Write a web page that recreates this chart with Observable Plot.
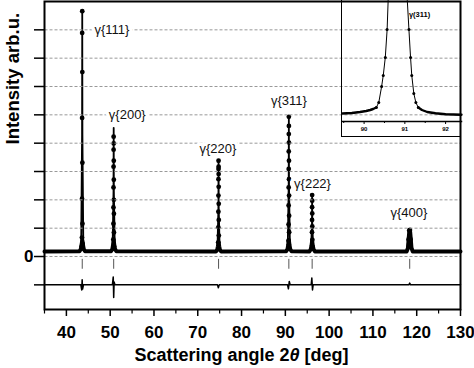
<!DOCTYPE html>
<html><head><meta charset="utf-8">
<script src="https://cdn.jsdelivr.net/npm/d3@7"></script>
<script src="https://cdn.jsdelivr.net/npm/@observablehq/plot@0.6"></script>
<style>
body{margin:0;background:#fff;}
#wrap{position:relative;width:474px;height:368px;overflow:hidden;font-family:"Liberation Sans",Arial,sans-serif;}
#main svg{display:block;}
#inset{position:absolute;left:341px;top:0;width:119px;height:136px;border-left:1.5px solid #000;border-bottom:1.5px solid #000;}
#inset svg{display:block;}
</style></head><body>
<div id="wrap"><div id="main"></div><div id="inset"></div></div>
<script>
// ---- main pattern data ----
const peakNames = ["γ{111}", "γ{200}", "γ{220}", "γ{311}", "γ{222}", "γ{400}"];
const braggPos = [43.62, 50.80, 74.75, 90.80, 96.12, 118.40];
const labelX = [50.4, 53.9, 74.6, 90.8, 96.2, 118.2];
const labelY = [8.0, 5.0, 3.79, 5.5, 2.57, 1.54];

// background band (with peak bases)
const bgX = [35, 43.0, 43.3, 43.45, 43.62, 43.8, 43.95, 44.25,
  50.2, 50.5, 50.65, 50.80, 50.95, 51.1, 51.4,
  74.15, 74.45, 74.6, 74.75, 74.9, 75.05, 75.35,
  90.2, 90.5, 90.65, 90.80, 90.95, 91.1, 91.4,
  95.5, 95.8, 95.97, 96.12, 96.27, 96.45, 96.75,
  117.7, 118.0, 118.15, 118.3, 118.5, 118.65, 118.8, 119.1, 130];
const bgY = [0.18, 0.19, 0.26, 0.4, 0.56, 0.4, 0.26, 0.19,
  0.19, 0.26, 0.4, 0.56, 0.4, 0.26, 0.19,
  0.18, 0.24, 0.36, 0.5, 0.36, 0.24, 0.18,
  0.19, 0.26, 0.4, 0.58, 0.4, 0.26, 0.19,
  0.18, 0.25, 0.38, 0.55, 0.38, 0.25, 0.18,
  0.18, 0.3, 0.6, 0.88, 0.88, 0.6, 0.3, 0.18, 0.18];

// calculated profile (thin line)
const calcX = [35, 43.0, 43.37, 43.58, 43.62, 43.66, 43.87, 44.25,
  50.2, 50.55, 50.76, 50.80, 50.84, 51.05, 51.4,
  74.15, 74.50, 74.71, 74.75, 74.79, 75.00, 75.35,
  90.2, 90.55, 90.76, 90.80, 90.84, 91.05, 91.4,
  95.5, 95.87, 96.08, 96.12, 96.16, 96.37, 96.75,
  117.7, 118.2, 118.4, 118.6, 119.1, 130];
const calcY = [0.18, 0.18, 0.35, 4.3, 8.66, 4.3, 0.35, 0.18,
  0.18, 0.35, 2.3, 4.54, 2.3, 0.35, 0.18,
  0.18, 0.3, 1.7, 3.38, 1.7, 0.3, 0.18,
  0.18, 0.35, 2.5, 4.93, 2.5, 0.35, 0.18,
  0.18, 0.3, 1.1, 2.17, 1.1, 0.3, 0.18,
  0.18, 0.7, 0.95, 0.7, 0.18, 0.18];

// observed points (dots)
const obsX = [43.50, 43.55, 43.57, 43.59, 43.60, 43.62, 43.64, 43.65, 43.67, 43.70, 43.75,
  50.79, 50.81, 50.78, 50.82, 50.77, 50.83, 50.76, 50.84, 50.75, 50.85, 50.74, 50.86, 50.72, 50.89,
  74.75, 74.76, 74.74, 74.77, 74.73, 74.78, 74.72, 74.79, 74.71, 74.80, 74.70, 74.81, 74.68,
  90.80, 90.81, 90.79, 90.82, 90.78, 90.83, 90.77, 90.84, 90.76, 90.85, 90.75, 90.86, 90.74, 90.87, 90.72,
  96.12, 96.13, 96.11, 96.14, 96.10, 96.15, 96.09, 96.17,
  118.15, 118.3, 118.45, 118.6];
const obsY = [0.35, 0.67, 2.04, 4.89, 7.89, 8.66, 6.51, 3.31, 1.16, 0.45, 0.3,
  4.23, 3.99, 3.77, 3.38, 3.17, 2.71, 2.44, 2.00, 1.73, 1.51, 1.16, 0.85, 0.60, 0.35,
  3.38, 3.17, 3.09, 2.91, 2.73, 2.46, 2.15, 1.86, 1.58, 1.29, 1.03, 0.74, 0.50,
  4.93, 4.61, 4.32, 4.02, 3.71, 3.38, 3.09, 2.73, 2.44, 2.15, 1.80, 1.44, 1.13, 0.86, 0.56,
  2.17, 1.97, 1.74, 1.52, 1.29, 1.06, 0.86, 0.59,
  0.6, 0.92, 0.94, 0.6];

// difference curve
const diffX = [35, 43.3, 43.5, 43.6, 43.7, 43.9, 50.5, 50.7, 50.8, 50.9, 51.1,
  74.5, 74.7, 74.9, 90.5, 90.7, 90.9, 91.1, 95.9, 96.05, 96.2, 96.35, 118.2, 118.4, 118.6, 130];
const diffY = [-1, -1.0, -1.18, -0.82, -1.15, -1.0, -1.0, -0.72, -1.45, -0.9, -1.0,
  -1.0, -1.1, -1.0, -1.0, -1.14, -0.88, -1.0, -1.0, -0.76, -1.18, -1.0, -1.0, -0.94, -1.0, -1];

const xMajor = [40, 50, 60, 70, 80, 90, 100, 110, 120, 130];
const xMinor = [35, 45, 55, 65, 75, 85, 95, 105, 115, 125];
const yTicks = [-1, 0, 1, 2, 3, 4, 5, 6, 7, 8];
const gridTicks = [0, 1, 2, 3, 4, 5, 6, 7, 8];
const xTitle = "Scattering angle 2θ [deg]";
const yTitle = "Intensity arb.u.";

// ---- inset data ----
const insetLineX = [89.47, 89.7, 89.9, 90.05, 90.15, 90.22, 90.30, 90.36, 90.43, 90.47, 90.52, 90.565, 90.59, 90.62,
  91.03, 91.06, 91.10, 91.14, 91.17, 91.22, 91.27, 91.33, 91.42, 91.55, 91.75, 92.0, 92.39];
const insetLineY = [0.8, 0.85, 0.95, 1.05, 1.15, 1.25, 1.4, 1.9, 3.5, 4.6, 6.4, 9.2, 12.1, 15,
  15, 12.1, 9.2, 6.4, 4.6, 2.8, 1.9, 1.4, 1.15, 0.95, 0.82, 0.72, 0.67];
const insetDotX = [90.30, 90.36, 90.43, 90.47, 90.52, 90.565, 91.10, 91.14, 91.17, 91.22, 91.27, 91.33];
const insetDotY = [1.4, 1.9, 3.5, 4.6, 6.4, 9.2, 9.2, 6.4, 4.6, 2.8, 1.9, 1.4];
const insetBgX = [89.47, 89.7, 89.9, 90.05, 90.15, 90.22, 90.30, 91.33, 91.42, 91.55, 91.75, 92.0, 92.39];
const insetBgY = [0.8, 0.85, 0.95, 1.05, 1.15, 1.25, 1.4, 1.4, 1.15, 0.95, 0.82, 0.72, 0.67];
const insetBgSide = ["L", "L", "L", "L", "L", "L", "L", "R", "R", "R", "R", "R", "R"];
const insetTicks = [90, 91, 92];
const insetMinor = [89.5, 90.5, 91.5];
const insetLabel = "γ(311)";

const font = "Liberation Sans, Arial, sans-serif";
const pts = (xs, ys) => xs.map((x, i) => ({x, y: ys[i]}));
const labels = peakNames.map((t, i) => ({t, x: labelX[i], y: labelY[i]}));

const main = Plot.plot({
  width: 474, height: 368,
  marginLeft: 44, marginRight: 14, marginTop: 1, marginBottom: 59,
  style: {fontFamily: font, background: "transparent", overflow: "visible"},
  x: {domain: [35, 130]},
  y: {domain: [-1.87, 9]},
  marks: [
    Plot.line(pts(bgX, bgY), {x: "x", y: "y", stroke: "#000", strokeWidth: 4}),
    Plot.line(pts(calcX, calcY), {x: "x", y: "y", stroke: "#000", strokeWidth: 1.8}),
    Plot.dot(pts(obsX, obsY), {x: "x", y: "y", r: 2.4, fill: "#000", stroke: "none"}),
    Plot.ruleX(braggPos, {x: d => d, y1: -0.1, y2: -0.45, stroke: "#555", strokeWidth: 1}),
    Plot.line(pts(diffX, diffY), {x: "x", y: "y", stroke: "#000", strokeWidth: 1.5}),
    Plot.link(gridTicks, {x1: () => 35, x2: () => 130, y1: d => d, y2: d => d, stroke: "#999", strokeDasharray: "3,2", strokeWidth: 1}),
    Plot.text(labels, {x: "x", y: "y", text: "t", fontSize: 13, fill: "#111", stroke: "white", strokeWidth: 7}),
    Plot.axisX({ticks: xMajor, tickSize: 7, tickPadding: 9, fontSize: 17, fontWeight: "bold", label: null, strokeWidth: 1.5}),
    Plot.axisX({ticks: xMinor, tickSize: 4.5, tickFormat: () => "", label: null, strokeWidth: 1.2}),
    Plot.axisY({ticks: yTicks, tickSize: 10, tickPadding: 1, tickFormat: d => d === 0 ? "0" : "", fontSize: 17, fontWeight: "bold", label: null, strokeWidth: 1.5}),
    Plot.frame({stroke: "#000", strokeWidth: 2}),
    Plot.text([xTitle], {frameAnchor: "bottom", dx: -11, dy: 46, lineAnchor: "middle", fontSize: 18, fontWeight: "bold", fill: "#000"}),
    Plot.text([yTitle], {frameAnchor: "left", dx: -31, dy: -11, rotate: -90, lineAnchor: "middle", fontSize: 18.5, fontWeight: "bold", fill: "#000"})
  ]
});
document.getElementById("main").appendChild(main);
// italic theta
main.querySelectorAll("text").forEach(t => {
  if (t.textContent === xTitle) {
    const ns = "http://www.w3.org/2000/svg";
    t.textContent = "";
    const a = document.createElementNS(ns, "tspan"); a.textContent = "Scattering angle 2";
    const b = document.createElementNS(ns, "tspan"); b.textContent = "θ"; b.setAttribute("font-style", "italic");
    const c = document.createElementNS(ns, "tspan"); c.textContent = " [deg]";
    t.append(a, b, c);
  }
});

const inset = Plot.plot({
  width: 119, height: 136,
  marginLeft: 0, marginRight: 0, marginTop: 0, marginBottom: 15,
  style: {fontFamily: font, background: "transparent", overflow: "visible"},
  x: {domain: [89.47, 92.39]},
  y: {domain: [0, 12.1], axis: null},
  marks: [
    Plot.line(insetBgX.map((x, i) => ({x, y: insetBgY[i], s: insetBgSide[i]})), {x: "x", y: "y", z: "s", stroke: "#000", strokeWidth: 2.4}),
    Plot.line(pts(insetLineX, insetLineY), {x: "x", y: "y", stroke: "#000", strokeWidth: 1, clip: true}),
    Plot.dot(pts(insetDotX, insetDotY), {x: "x", y: "y", r: 1.5, fill: "#000", stroke: "none"}),
    Plot.frame({anchor: "bottom", stroke: "#000", strokeWidth: 1.5}),
    Plot.axisX({ticks: insetTicks, tickSize: 3, tickPadding: 2, tickFormat: d => String(d), fontSize: 6, fontWeight: "bold", label: null}),
    Plot.axisX({ticks: insetMinor, tickSize: 2, tickFormat: () => "", label: null}),
    Plot.text([insetLabel], {x: 91.36, y: 10.7, fontSize: 7.5, fontWeight: "bold", fill: "#000"})
  ]
});
document.getElementById("inset").appendChild(inset);
</script>
</body></html>
